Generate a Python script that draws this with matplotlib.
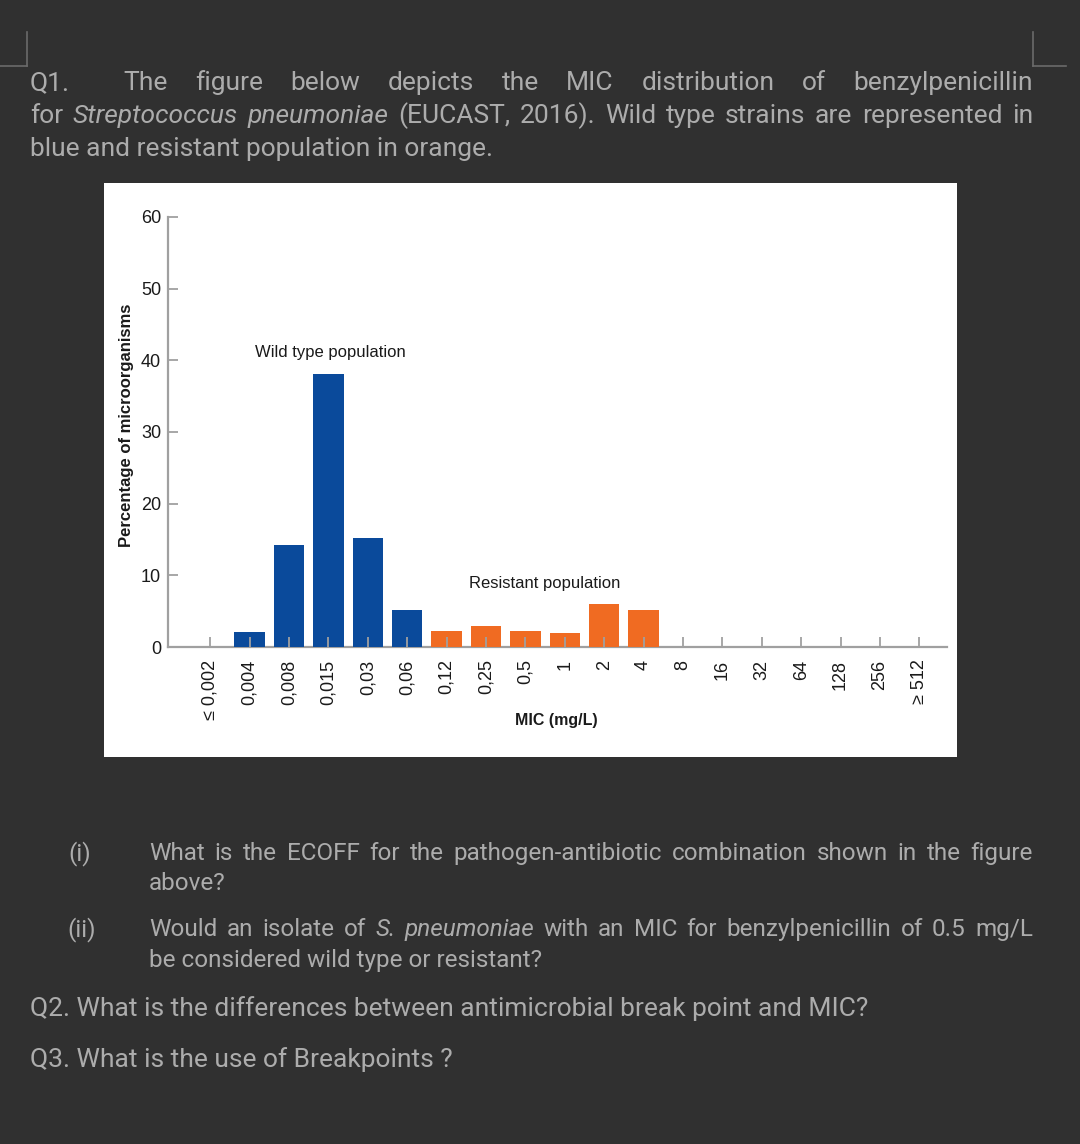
import matplotlib.pyplot as plt
from matplotlib.patches import Rectangle
from matplotlib.lines import Line2D

# --- data ---
mic_labels = ["≤ 0,002", "0,004", "0,008", "0,015", "0,03", "0,06", "0,12", "0,25",
              "0,5", "1", "2", "4", "8", "16", "32", "64", "128", "256", "≥ 512"]
percent = [0, 2.1, 14.2, 38.1, 15.2, 5.2, 2.2, 2.9, 2.2, 2.0, 6.0, 5.2,
           0, 0, 0, 0, 0, 0, 0]
population = ["wild"] * 6 + ["resistant"] * 6 + ["none"] * 7

W, H = 1080, 1144
BG = "#303030"
TXT = "#acacac"
BLUE = "#0a4a9b"
ORANGE = "#f06b22"
pop_colors = {"wild": BLUE, "resistant": ORANGE, "none": "white"}

fig = plt.figure(figsize=(W / 100, H / 100), dpi=100, facecolor=BG)


def fx(x):
    return x / W


def fy(y):
    return 1 - y / H


# page corner marks
for xs, ys in [([27, 27], [32, 66]), ([0, 27], [66, 66]),
               ([1033, 1033], [32, 66]), ([1033, 1066], [66, 66])]:
    fig.add_artist(Line2D([fx(v) for v in xs], [fy(v) for v in ys],
                          transform=fig.transFigure, color="#6a6a6a", lw=1.2))

# white image box behind the chart
fig.add_artist(Rectangle((fx(104), fy(757)), 853 / W, 574 / H,
                         transform=fig.transFigure, facecolor="white",
                         edgecolor="none", zorder=0))

# --- chart ---
ax = fig.add_axes([fx(168), fy(647), (947 - 168) / W, (647 - 217) / H])
ax.set_zorder(1)
ax.patch.set_alpha(0)
xs = list(range(len(mic_labels)))
ax.bar(xs, percent, width=0.77, color=[pop_colors[p] for p in population], zorder=1)
ax.set_xlim(-1.07, 18.7)
ax.set_ylim(0, 60)
ax.set_yticks(range(0, 61, 10))
ax.set_xticks(xs)
ax.set_xticklabels(mic_labels, rotation=90, va="top")
for s in ["top", "right"]:
    ax.spines[s].set_visible(False)
for s in ["left", "bottom"]:
    ax.spines[s].set_color("#a0a0a0")
    ax.spines[s].set_linewidth(1.6)
ax.spines["bottom"].set_zorder(0.5)
ax.tick_params(axis="both", direction="in", length=7, width=1.3, color="#a0a0a0",
               labelsize=13, labelcolor="#1a1a1a")
ax.tick_params(axis="x", pad=9)
ax.tick_params(axis="y", pad=5)
for lab in ax.get_xticklabels() + ax.get_yticklabels():
    lab.set_family("Liberation Sans")
ax.set_ylabel("Percentage of microorganisms", fontsize=12, fontweight="bold",
              family="Liberation Sans", color="#1a1a1a")
ax.yaxis.set_label_coords(-0.053, 0.516)
ax.yaxis.label.set_va("center")
ax.set_xlabel("MIC (mg/L)", fontsize=11.5, fontweight="bold",
              family="Liberation Sans", color="#1a1a1a")
ax.xaxis.set_label_coords(0.499, -0.172)
ax.xaxis.label.set_va("center")
ax.text(3.05, 41.1, "Wild type population", ha="center", va="center",
        fontsize=12, family="Liberation Sans", color="#1a1a1a")
ax.text(8.5, 8.9, "Resistant population", ha="center", va="center",
        fontsize=12, family="Liberation Sans", color="#1a1a1a")

# --- document text ---
renderer = fig.canvas.get_renderer()


def line(words, x0, y, size, x1=None):
    arts = []
    for w in words:
        txt, st = (w, "normal") if isinstance(w, str) else w
        arts.append(fig.text(0, 0, txt, fontsize=size, style=st, family="Roboto",
                             color=TXT, va="baseline"))
    widths = [a.get_window_extent(renderer).width for a in arts]
    if x1 is not None and len(arts) > 1:
        gap = (x1 - x0 - sum(widths)) / (len(arts) - 1)
    else:
        gap = size * 100 / 72 * 0.248
    x = x0
    for a, wd in zip(arts, widths):
        a.set_position((fx(x), fy(y)))
        x += wd + gap


line(["Q1."], 30, 90, 19)
line("The figure below depicts the MIC distribution of benzylpenicillin".split(),
     123, 90, 19, x1=1033)
line(["for", ("Streptococcus", "italic"), ("pneumoniae", "italic")]
     + "(EUCAST, 2016). Wild type strains are represented in".split(),
     30, 123, 19, x1=1033)
line(["blue and resistant population in orange."], 30, 156, 19)

line(["(i)"], 68, 860, 17.5)
line("What is the ECOFF for the pathogen-antibiotic combination shown in the figure".split(),
     149, 860, 17.5, x1=1033)
line(["above?"], 149, 890, 17.5)
line(["(ii)"], 67, 936, 17.5)
line("Would an isolate of".split() + [("S.", "italic"), ("pneumoniae", "italic")]
     + "with an MIC for benzylpenicillin of 0.5 mg/L".split(),
     149, 936, 17.5, x1=1033)
line(["be considered wild type or resistant?"], 149, 967, 17.5)
line(["Q2. What is the differences between antimicrobial break point and MIC?"], 30, 1016, 19)
line(["Q3. What is the use of Breakpoints ?"], 30, 1067, 19)

fig.savefig("out.png", dpi=100, facecolor=BG)
